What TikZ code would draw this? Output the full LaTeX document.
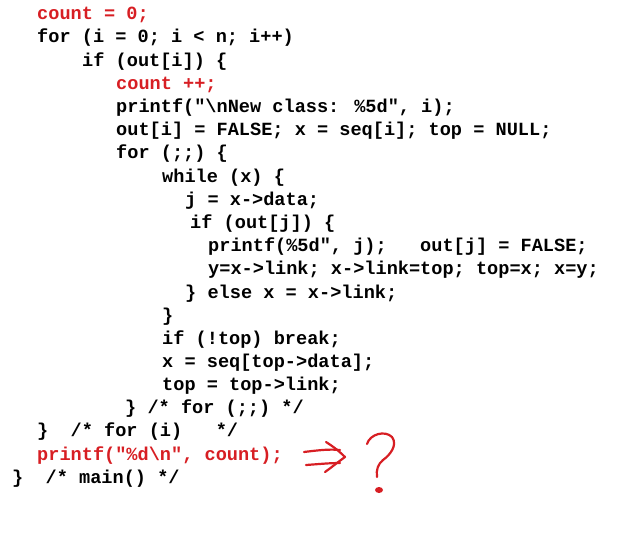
\documentclass[tikz,border=0pt]{standalone}
\usepackage{fontspec}
\newfontfamily\codefont{Liberation Mono}
\definecolor{cred}{RGB}{215,30,35}
\begin{document}
\begin{tikzpicture}[x=1pt,y=-1pt,
  code/.style={anchor=west,inner sep=0pt,font=\codefont\bfseries\fontsize{18.6}{20}\selectfont},
  hl/.style={code,text=cred},
  pen/.style={cred,line width=2.2pt,line cap=round,line join=round}]
\useasboundingbox (0,0) rectangle (638,539);
\node[hl]   (l0)  at (37,15)  {count = 0;};
\node[code] (l1)  at (37,38)  {for (i = 0; i < n; i++)};
\node[code] (l2)  at (82,62)  {if (out[i]) \{};
\node[hl]   (l3)  at (116,85) {count ++;};
\node[code] (l4)  at (116,108) {printf("\textbackslash nNew class: \%5d", i);};
\node[code] (l5)  at (116,131) {out[i] = FALSE; x = seq[i]; top = NULL;};
\node[code] (l6)  at (116,154) {for (;;) \{};
\node[code] (l7)  at (162,178) {while (x) \{};
\node[code] (l8)  at (185,201) {j = x->data;};
\node[code] (l9)  at (190,224) {if (out[j]) \{};
\node[code] (l10) at (208,247) {printf(\%5d", j);\ \ \ out[j] = FALSE;};
\node[code] (l11) at (208,270) {y=x->link; x->link=top; top=x; x=y;};
\node[code] (l12) at (185,294) {\} else x = x->link;};
\node[code] (l13) at (162,317) {\}};
\node[code] (l14) at (162,340) {if (!top) break;};
\node[code] (l15) at (162,363) {x = seq[top->data];};
\node[code] (l16) at (162,386) {top = top->link;};
\node[code] (l17) at (125,409) {\} /* for (;;) */};
\node[code] (l18) at (37,432) {\}\ \ /* for (i)\ \ \ */};
\node[hl]   (l19) at (37,456) {printf("\%d\textbackslash n", count);};
\node[code] (l20) at (12,479) {\}\ \ /* main() */};
% hand-drawn arrow
\draw[pen] (304,452) .. controls (320,450) and (330,449) .. (340,450);
\draw[pen] (306,465) .. controls (320,464) and (330,463) .. (340,463);
\draw[pen] (326,442) .. controls (334,447) and (340,452) .. (345,457)
           .. controls (338,462) and (332,467) .. (325,472);
% question mark
\draw[pen] (367,444) .. controls (370,434) and (385,430) .. (392,437)
           .. controls (398,445) and (390,455) .. (383,460)
           .. controls (378,464) and (376,470) .. (377,477);
\fill[cred] (379,490) ellipse (4 and 3);
\end{tikzpicture}
\end{document}
